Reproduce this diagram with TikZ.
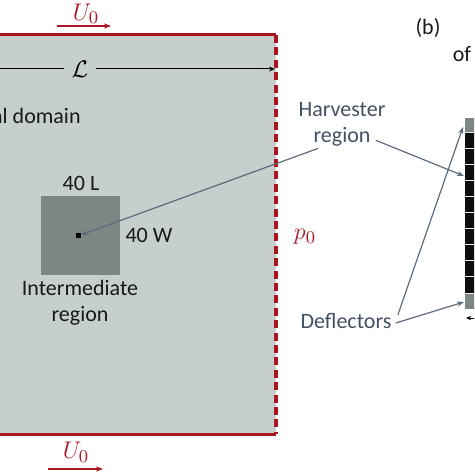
\documentclass[tikz,border=0pt]{standalone}
\usepackage{fontspec}
\setmainfont{Carlito}
\usetikzlibrary{arrows.meta}
\definecolor{domaingray}{RGB}{198,206,206}
\definecolor{regiongray}{RGB}{123,134,133}
\definecolor{bcred}{RGB}{168,22,32}
\definecolor{slate}{RGB}{66,80,98}
\begin{document}
\begin{tikzpicture}[x=0.5pt,y=-0.5pt]
        % Styles
        \tikzstyle{boundary}=[bcred,line width=1.5pt]
        \tikzstyle{outlet}=[bcred,line width=1.6pt,dash pattern=on 4pt off 2.2pt]
        \tikzstyle{flow arrow}=[bcred,line width=0.8pt,-{Stealth[length=3.5pt,width=2.6pt]}]
        \tikzstyle{pointer}=[slate!85,line width=0.6pt,-{Stealth[length=3.5pt,width=2.6pt]}]
        \tikzstyle{label text}=[font=\fontsize{11}{13}\selectfont,inner sep=1pt,align=center,text=black!90]
        \tikzstyle{math text}=[font=\fontsize{13}{15}\selectfont,inner sep=1pt,text=bcred]
        \tikzstyle{callout text}=[label text,text=slate]
        \useasboundingbox (0,0) rectangle (474,474);
        \clip (0,0) rectangle (474,474);
        %The graphic
        %domain
        \fill[domaingray] (-20,35) rectangle (276,434);
        \draw[boundary] (-20,35) -- (276,35);
        \draw[boundary] (-20,434) -- (276,434);
        \draw[outlet] (276,35) -- (276,434);
        %inflow
        \node[math text] (utop) at (86,14) {$U_0$};
        \coordinate (utopa) at (57,26);
        \coordinate (utopb) at (111,26);
        \draw[flow arrow] (utopa) -- (utopb);
        \node[math text] (ubot) at (76,452) {$U_0$};
        \coordinate (ubota) at (48,469);
        \coordinate (ubotb) at (103,469);
        \draw[flow arrow] (ubota) -- (ubotb);
        \node[math text] (pzero) at (305,237) {$p_0$};
        %length
        \node[math text,text=black,inner sep=3.5pt] (calL) at (80,69) {$\mathcal{L}$};
        \coordinate (lwest) at (-20,69);
        \coordinate (least) at (275,69);
        \draw[line width=0.5pt] (calL) -- (lwest);
        \draw[line width=0.5pt,-{Stealth[length=3pt,width=2.4pt]}] (calL) -- (least);
        \node[label text,anchor=east] (domain) at (83,116) {al domain};
        %intermediate region
        \node[fill=regiongray,minimum size=39.5pt,inner sep=0pt] (interm) at (80.5,236) {};
        \node[fill=black,inner sep=0pt,minimum size=2.5pt] (probe) at (78,236) {};
        \node[label text] (lsize) at (81,183) {40 L};
        \node[label text] (wsize) at (149,235) {40 W};
        \node[label text] (inter) at (80,303) {Intermediate\\region};
        %detail (b)
        \node[label text] (plabel) at (428,28) {(b)};
        \node[label text] (ofword) at (462,54) {of};
        %strip
        \fill[regiongray] (465,118) rectangle (480,132);
        \fill[black!95] (465,132) rectangle (480,293);
        \fill[regiongray] (465,293) rectangle (480,309);
        \foreach \k in {0,...,10}
            \draw[white!85!gray,line width=0.4pt] (465,{132+\k*16.1}) -- (480,{132+\k*16.1});
        \coordinate (wright) at (484,318);
        \coordinate (wleft) at (466,318);
        \draw[line width=0.5pt,-{Stealth[length=2.5pt,width=2.2pt]}] (wright) -- (wleft);
        %callouts
        \node[callout text] (harv) at (342,124) {Harvester\\region};
        \node[callout text] (defl) at (346,321) {Deflectors};
        \coordinate (hcell) at (464,176);
        \coordinate (dtop) at (463,127);
        \coordinate (dbot) at (464,302);
        \draw[pointer] ([xshift=11pt]harv.south west) -- (probe);
        \draw[pointer] ([xshift=-6pt,yshift=4pt]harv.south east) -- (hcell);
        \draw[pointer] ([xshift=2pt,yshift=-2pt]defl.north east) -- (dtop);
        \draw[pointer] ([xshift=1pt,yshift=-1pt]defl.east) -- (dbot);
    \end{tikzpicture}
\end{document}
